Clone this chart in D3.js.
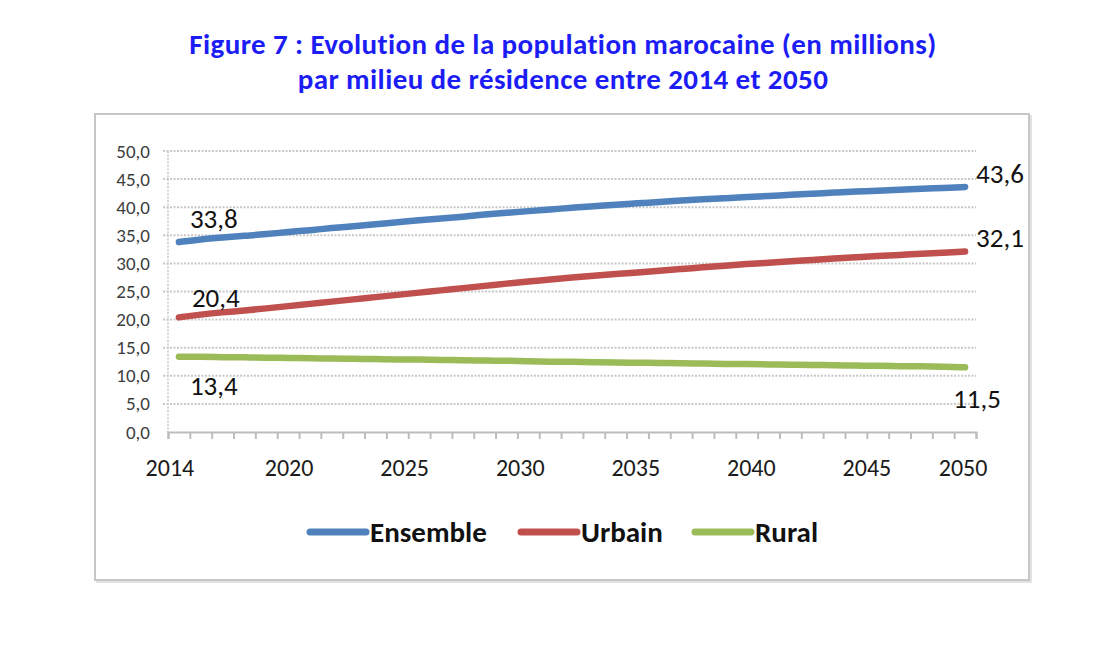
<!DOCTYPE html>
<html>
<head>
<meta charset="utf-8">
<script src="https://cdn.jsdelivr.net/npm/d3@7"></script>
<style>
  body { margin: 0; background: #fff; }
  text { font-family: Carlito, Lato, "Open Sans", sans-serif; }
</style>
</head>
<body>
<svg id="chart" width="1100" height="654"></svg>
<script>
(() => {
    // data (millions, one value per year 2014-2050)
    const years = d3.range(2014, 2051);
    const ensemble = [33.8, 34.3, 34.6, 34.9, 35.2, 35.6, 35.9, 36.3, 36.6, 37.0, 37.3, 37.7, 38.0,
        38.3, 38.7, 39.0, 39.3, 39.6, 39.9, 40.2, 40.4, 40.7, 40.9, 41.2, 41.4, 41.6, 41.8, 42.0,
        42.2, 42.4, 42.6, 42.8, 42.9, 43.1, 43.3, 43.4, 43.6];
    const urbain = [20.4, 20.9, 21.3, 21.6, 22.0, 22.4, 22.8, 23.2, 23.6, 24.0, 24.4, 24.8, 25.2,
        25.6, 26.0, 26.4, 26.8, 27.1, 27.5, 27.8, 28.1, 28.4, 28.7, 29.0, 29.3, 29.6, 29.9, 30.1,
        30.4, 30.6, 30.9, 31.1, 31.3, 31.5, 31.7, 31.9, 32.1];
    const rural = [13.4, 13.4, 13.3, 13.3, 13.2, 13.2, 13.1, 13.1, 13.0, 13.0, 12.9, 12.9, 12.8,
        12.8, 12.7, 12.7, 12.6, 12.5, 12.5, 12.4, 12.4, 12.3, 12.3, 12.2, 12.2, 12.1, 12.1, 12.0,
        12.0, 11.9, 11.9, 11.8, 11.8, 11.7, 11.7, 11.6, 11.5];
    const xTickLabels = [2014, 2020, 2025, 2030, 2035, 2040, 2045, 2050];
    const yTicks = d3.range(0, 50.1, 5);
    const seriesNames = ["Ensemble", "Urbain", "Rural"];

    const series = [
        { name: seriesNames[0], values: ensemble, color: "#4f81bd" },
        { name: seriesNames[1], values: urbain, color: "#c0504d" },
        { name: seriesNames[2], values: rural, color: "#9bbb59" }
    ];

    const svg = d3.select("#chart");
    const margin = { top: 151, left: 168 },
        width = 808,
        height = 281;

    // title
    const title = svg.append("g").attr("font-weight", "bold").attr("fill", "#1c1cf5")
        .attr("font-size", 29).attr("letter-spacing", 0.4).attr("text-anchor", "middle");
    title.append("text").attr("x", 563).attr("y", 54)
        .text("Figure 7 : Evolution de la population marocaine (en millions)");
    title.append("text").attr("x", 563).attr("y", 89)
        .text("par milieu de résidence entre 2014 et 2050");

    // chart frame with a soft shadow
    svg.append("rect").attr("x", 97).attr("y", 116).attr("width", 934).attr("height", 466)
        .attr("fill", "none").attr("stroke", "#e2e2e2").attr("stroke-width", 2);
    svg.append("rect").attr("x", 95).attr("y", 114).attr("width", 934).attr("height", 466)
        .attr("fill", "#fff").attr("stroke", "#c6c6c6").attr("stroke-width", 2);

    const g = svg.append("g").attr("transform", `translate(${margin.left},${margin.top})`);

    const x = d3.scaleBand().domain(years).range([0, width]);
    const xEdge = d3.scaleLinear().domain([0, years.length]).range([0, width]);
    const y = d3.scaleLinear().domain([0, 50]).range([height, 0]);
    const cx = yr => x(yr) + x.bandwidth() / 2;

    // year labels sit slightly off the category centres in the original
    const xLabel = d3.scaleLinear()
        .domain([2014, 2020, 2045, 2050])
        .range([cx(2014) - 9, cx(2019) + 1, cx(2045) + 11, cx(2050) - 2]);

    // dotted gridlines
    g.append("g").selectAll("line").data(yTicks.filter(d => d > 0)).join("line")
        .attr("x1", -5).attr("x2", width)
        .attr("y1", d => y(d)).attr("y2", d => y(d))
        .attr("stroke", "#c8c8c8").attr("stroke-width", 2).attr("stroke-dasharray", "2,1.5");
    g.append("line").attr("x1", 0).attr("x2", 0).attr("y1", 0).attr("y2", height)
        .attr("stroke", "#c8c8c8").attr("stroke-width", 1.5).attr("stroke-dasharray", "2,1.5");

    // y axis labels
    const yAxis = g.append("g")
        .call(d3.axisLeft(y).tickValues(yTicks).tickSize(0).tickPadding(18)
            .tickFormat(d => d.toFixed(1).replace(".", ",")));
    yAxis.select(".domain").remove();
    yAxis.selectAll("text").attr("font-family", "Carlito, Lato, sans-serif")
        .attr("font-size", 19).attr("fill", "#404040");

    // x axis: ticks at category boundaries
    const xAxis = g.append("g").attr("transform", `translate(0,${height})`)
        .call(d3.axisBottom(xEdge).tickValues(d3.range(years.length + 1)).tickSize(7).tickFormat(""));
    xAxis.select(".domain").attr("stroke", "#bdbdbd").attr("stroke-width", 2);
    xAxis.selectAll(".tick line").attr("stroke", "#bdbdbd").attr("stroke-width", 2);

    g.append("g").selectAll("text").data(xTickLabels).join("text")
        .attr("x", d => xLabel(d))
        .attr("y", height + 44)
        .attr("text-anchor", "middle")
        .attr("font-size", 24).attr("fill", "#1a1a1a")
        .text(d => d);

    // lines (smoothed like the original)
    const line = d3.line()
        .x((d, i) => cx(years[i]))
        .y(d => y(d))
        .curve(d3.curveBasis);

    g.append("g").selectAll("path").data(series).join("path")
        .attr("d", d => line(d.values))
        .attr("fill", "none")
        .attr("stroke", d => d.color)
        .attr("stroke-width", 6.5)
        .attr("stroke-linecap", "round");

    // data labels at first and last points
    const fmt = v => v.toFixed(1).replace(".", ",");
    const first = cx(years[0]);
    const last = cx(years[years.length - 1]);
    const labels = [
        { v: ensemble[0], px: first, dx: 11, dy: -14, anchor: "start" },
        { v: urbain[0], px: first, dx: 13, dy: -10, anchor: "start" },
        { v: rural[0], px: first, dx: 11, dy: 38, anchor: "start" },
        { v: ensemble[ensemble.length - 1], px: last, dx: 11, dy: -4, anchor: "start" },
        { v: urbain[urbain.length - 1], px: last, dx: 11, dy: -5, anchor: "start" },
        { v: rural[rural.length - 1], px: last, dx: 12, dy: 41, anchor: "middle" }
    ];
    g.append("g").selectAll("text").data(labels).join("text")
        .attr("x", d => d.px + d.dx)
        .attr("y", d => y(d.v) + d.dy)
        .attr("text-anchor", d => d.anchor)
        .attr("font-size", 27).attr("fill", "#111")
        .text(d => fmt(d.v));

    // legend
    const legendX = [310, 521, 695];
    const legend = svg.append("g").selectAll("g").data(series).join("g")
        .attr("transform", (d, i) => `translate(${legendX[i]},532)`);
    legend.append("line").attr("x1", 0).attr("x2", 56)
        .attr("stroke", d => d.color).attr("stroke-width", 7).attr("stroke-linecap", "round");
    legend.append("text").attr("x", 60).attr("y", 10)
        .attr("font-size", 29).attr("font-weight", "bold").attr("fill", "#111")
        .text(d => d.name);
})();
</script>
</body>
</html>
